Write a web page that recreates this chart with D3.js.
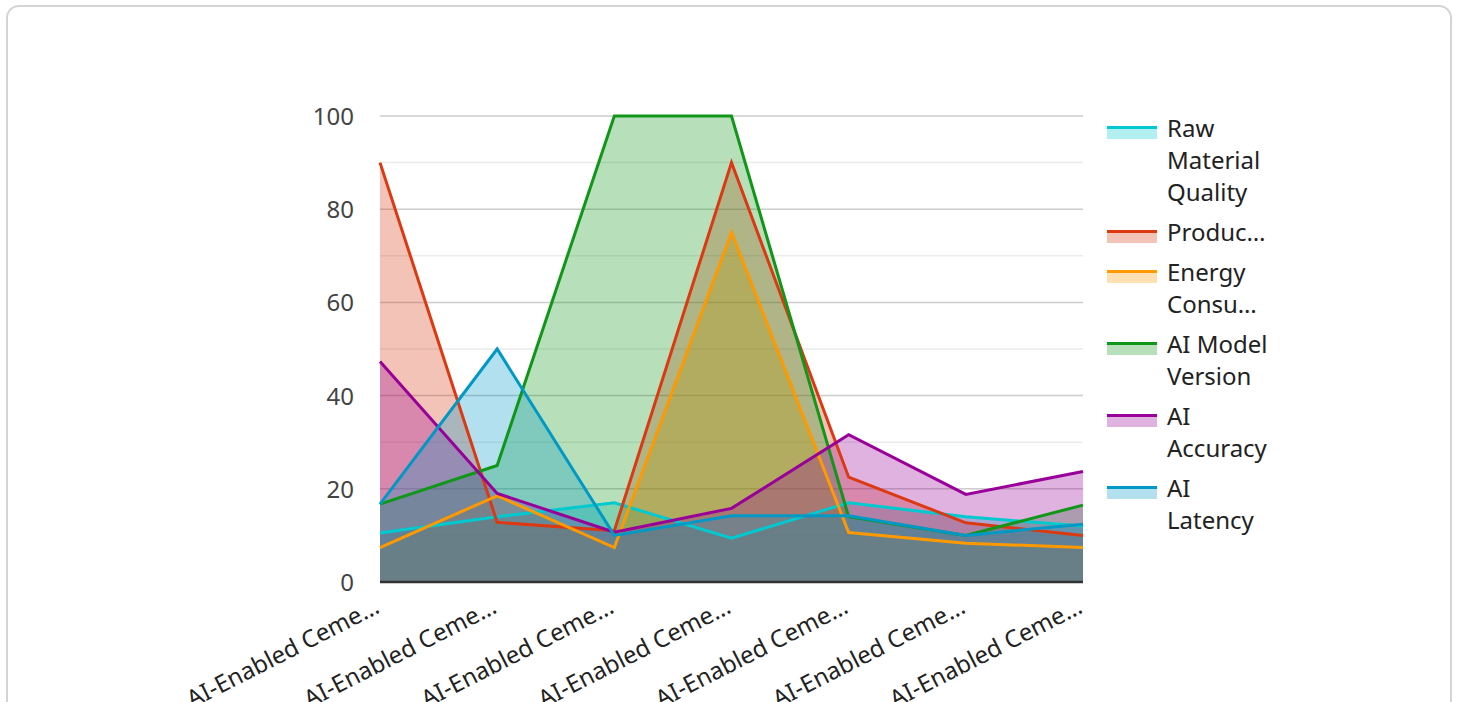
<!DOCTYPE html>
<html lang="en">
  <head>
    <title>AI-Enabled Cement</title>
    <style>
      body { margin: 0; background: #fff; }
      svg text { font-family: 'Noto Sans', sans-serif; }
    </style>
  </head>
  <body>
    <div id="viz"></div>
    <script src="https://unpkg.com/d3@7/dist/d3.min.js"></script>
    <script>
      const categories = [
        'AI-Enabled Cement Plant A', 'AI-Enabled Cement Plant B', 'AI-Enabled Cement Plant C',
        'AI-Enabled Cement Plant D', 'AI-Enabled Cement Plant E', 'AI-Enabled Cement Plant F',
        'AI-Enabled Cement Plant G'
      ]
      const seriesNames = ['Raw Material Quality', 'Production Efficiency', 'Energy Consumption',
        'AI Model Version', 'AI Accuracy', 'AI Latency']
      const legendLines = [['Raw', 'Material', 'Quality'], ['Produc…'], ['Energy', 'Consu…'],
        ['AI Model', 'Version'], ['AI', 'Accuracy'], ['AI', 'Latency']]
      const colors = ['#00c9d0', '#dc3912', '#ff9900', '#109618', '#990099', '#0099c6']

      const rawMaterial = [10.5, 14, 17, 9.4, 17, 14, 12]
      const production = [90, 12.8, 11, 90, 22.5, 12.7, 10]
      const energy = [7.4, 18.5, 7.4, 75, 10.6, 8.3, 7.4]
      const modelVersion = [16.7, 25, 100, 100, 14, 10, 16.5]
      const accuracy = [47.3, 19, 10.7, 15.8, 31.6, 18.8, 23.7]
      const latency = [16.7, 50, 10, 14.2, 14.2, 10, 12.4]
      const series = [rawMaterial, production, energy, modelVersion, accuracy, latency]

      const yTicks = [0, 20, 40, 60, 80, 100]
      const yMinor = [10, 30, 50, 70, 90]

      const width = 1458
      const height = 702
      const svg = d3.select('#viz').append('svg').attr('width', width).attr('height', height)

      // card
      svg.append('rect')
        .attr('x', 7).attr('y', 6).attr('width', 1444).attr('height', 740)
        .attr('rx', 12).attr('fill', '#fff').attr('stroke', '#d4d4d4').attr('stroke-width', 2)

      const x = d3.scalePoint().domain(categories).range([380, 1083])
      const y = d3.scaleLinear().domain([0, 100]).range([582, 116])

      const grid = svg.append('g')
      grid.selectAll('line.minor')
        .data(yMinor)
          .enter()
            .append('line')
              .attr('class', 'minor')
              .attr('x1', 380).attr('x2', 1083)
              .attr('y1', d => y(d)).attr('y2', d => y(d))
              .attr('stroke', '#ebebeb').attr('stroke-width', 1.5)
      grid.selectAll('line.major')
        .data(yTicks.filter(d => d > 0))
          .enter()
            .append('line')
              .attr('class', 'major')
              .attr('x1', 380).attr('x2', 1083)
              .attr('y1', d => y(d)).attr('y2', d => y(d))
              .attr('stroke', '#cccccc').attr('stroke-width', 1.5)

      const yAxis = svg.append('g')
        .attr('transform', 'translate(380,0)')
        .call(d3.axisLeft(y).tickValues(yTicks).tickSize(0).tickPadding(26))
      yAxis.select('.domain').remove()
      yAxis.selectAll('text').attr('font-size', 24).attr('fill', '#444').attr('dy', '0.35em')

      const area = d3.area()
        .x((d, i) => x(categories[i]))
        .y0(y(0))
        .y1(d => y(d))
      const line = d3.line()
        .x((d, i) => x(categories[i]))
        .y(d => y(d))

      svg.append('g').selectAll('path')
        .data(series)
          .enter()
            .append('path')
              .attr('d', d => area(d))
              .attr('fill', (d, i) => colors[i])
              .attr('fill-opacity', 0.3)

      svg.append('g').selectAll('path')
        .data(series)
          .enter()
            .append('path')
              .attr('d', d => line(d))
              .attr('fill', 'none')
              .attr('stroke', (d, i) => colors[i])
              .attr('stroke-width', 3)

      // baseline
      svg.append('line')
        .attr('x1', 380).attr('x2', 1083).attr('y1', y(0)).attr('y2', y(0))
        .attr('stroke', '#333').attr('stroke-width', 2.5)

      // x labels
      const xAxis = svg.append('g')
      xAxis.selectAll('text')
        .data(categories)
          .enter()
            .append('text')
              .attr('transform', d => `translate(${x(d) + 1},${y(0) + 30}) rotate(-27)`)
              .attr('text-anchor', 'end')
              .attr('font-size', 24)
              .attr('fill', '#222')
              .text(d => d.slice(0, 15) + '…')

      // legend
      const legend = svg.append('g')
      let base = 137
      legendLines.forEach((lines, i) => {
        const g = legend.append('g')
        g.append('rect')
          .attr('x', 1107).attr('y', base - 11).attr('width', 50).attr('height', 13)
          .attr('fill', colors[i]).attr('fill-opacity', 0.3)
        g.append('rect')
          .attr('x', 1107).attr('y', base - 11).attr('width', 50).attr('height', 3)
          .attr('fill', colors[i])
        lines.forEach((t, j) => {
          g.append('text')
            .attr('x', 1167).attr('y', base + j * 32)
            .attr('font-size', 24)
            .attr('fill', '#222')
            .text(t)
        })
        base += (lines.length - 1) * 32 + 40
      })
    </script>
  </body>
</html>
